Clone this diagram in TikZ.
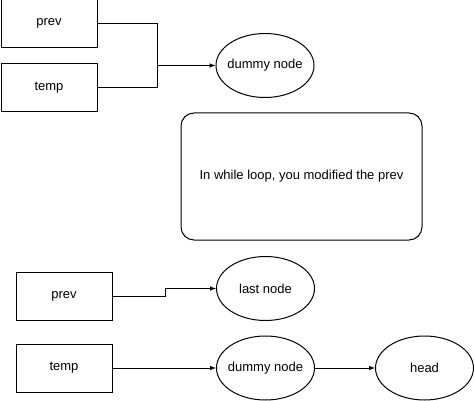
\documentclass[tikz,border=0pt]{standalone}
\usepackage{fontspec}
\setmainfont{Liberation Sans}
\usetikzlibrary{shapes.geometric}
\tikzset{
  box/.style={draw, line width=1pt, minimum width=96pt, minimum height=48pt, inner sep=0pt},
  oval/.style={draw, ellipse, line width=1pt, minimum width=98pt, minimum height=64pt, inner ysep=0pt, inner xsep=-8pt},
  note/.style={draw, line width=1pt, rounded corners=13pt, minimum width=241pt, minimum height=127pt, inner sep=0pt},
  link/.style={->, line width=1pt}
}
\begin{document}
\begin{tikzpicture}[x=1pt, y=-1pt, >=latex, font=\fontsize{13}{15}\selectfont]
		\useasboundingbox (0,0) rectangle (474,401);
		% before the loop
		\node[box] (prev) at (49,23.5) {prev};
		\node[box] (temp) at (49,88) {temp};
		\node[oval] (dummy) at (265,65.5) {dummy node};
		\coordinate (join) at (157,65.5);
		\draw[line width=1pt] (prev.east) -| (join);
		\draw[line width=1pt] (temp.east) -| (join);
		\draw[link] (join) -- (dummy.west);
		\node[note] (loop) at (301.5,176.5) {In while loop, you modified the prev};
		% after the loop
		\node[box] (prevb) at (64,296) {prev};
		\node[box] (tempb) at (64,368) {temp};
		\node[oval] (last) at (265.5,288.5) {last node};
		\node[oval] (dummyb) at (265.5,368) {dummy node};
		\node[oval] (head) at (424.5,368) {head};
		\coordinate (bend) at (165,296);
		\draw[link] (prevb.east) -- (bend) |- (last.west);
		\draw[link] (tempb) -- (dummyb);
		\draw[link] (dummyb) -- (head);
	\end{tikzpicture}
\end{document}
